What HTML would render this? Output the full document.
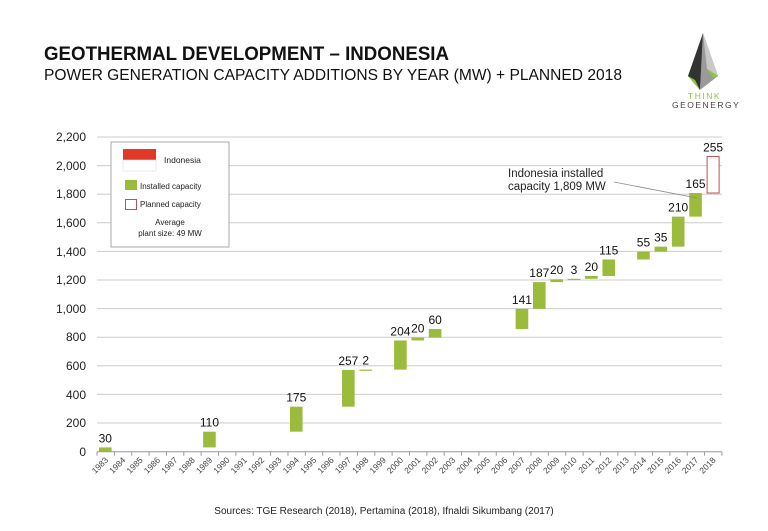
<!DOCTYPE html>
<html><head><meta charset="utf-8"><style>
html,body{margin:0;padding:0;background:#fff}
svg{display:block;font-family:"Liberation Sans",sans-serif}
</style></head><body>
<svg width="768" height="531" viewBox="0 0 768 531" xmlns="http://www.w3.org/2000/svg">
<text x="44" y="60" font-size="19" font-weight="bold" fill="#111" textLength="405" lengthAdjust="spacingAndGlyphs">GEOTHERMAL DEVELOPMENT – INDONESIA</text>
<text x="44" y="80" font-size="16" fill="#111" textLength="578" lengthAdjust="spacingAndGlyphs">POWER GENERATION CAPACITY ADDITIONS BY YEAR (MW) + PLANNED 2018</text>
<!-- logo -->
<polygon points="703,33 718,76 700,90" fill="#9a9a9a"/>
<polygon points="703,33 700,90 688,76" fill="#333"/>
<polygon points="703,33 718,76 707,69" fill="#c8c8c8"/>
<polygon points="688,76 700,90 695,80" fill="#8cc63f"/>
<polygon points="707,69 718,76 713,78" fill="#8cc63f"/>
<text x="688" y="99" font-size="8.5" fill="#8cc63f" letter-spacing="1.5">THINK</text>
<text x="672" y="108" font-size="8.5" fill="#444" letter-spacing="1.5">GEOENERGY</text>
<!-- grid -->
<g stroke="#ccc" stroke-width="1">
<line x1="97" x2="722" y1="137" y2="137"/><line x1="97" x2="722" y1="165.6" y2="165.6"/>
<line x1="97" x2="722" y1="194.2" y2="194.2"/><line x1="97" x2="722" y1="222.8" y2="222.8"/>
<line x1="97" x2="722" y1="251.4" y2="251.4"/><line x1="97" x2="722" y1="280" y2="280"/>
<line x1="97" x2="722" y1="308.6" y2="308.6"/><line x1="97" x2="722" y1="337.2" y2="337.2"/>
<line x1="97" x2="722" y1="365.8" y2="365.8"/><line x1="97" x2="722" y1="394.4" y2="394.4"/>
<line x1="97" x2="722" y1="423" y2="423"/>
</g>
<line x1="97" x2="722" y1="451.7" y2="451.7" stroke="#999"/>
<g font-size="12" fill="#222" text-anchor="end">
<text x="86" y="141">2,200</text><text x="86" y="170">2,000</text><text x="86" y="198">1,800</text>
<text x="86" y="227">1,600</text><text x="86" y="256">1,400</text><text x="86" y="284">1,200</text>
<text x="86" y="313">1,000</text><text x="86" y="341">800</text><text x="86" y="370">600</text>
<text x="86" y="399">400</text><text x="86" y="427">200</text><text x="86" y="456">0</text>
</g>
<g id="ticks" stroke="#999"></g>
<g id="bars"></g>
<g id="years" font-size="8.5" fill="#444"></g>
<!-- annotation -->
<text x="508" y="177" font-size="11.5" fill="#222">Indonesia installed</text>
<text x="508" y="190" font-size="11.5" fill="#222">capacity 1,809 MW</text>
<line x1="614" y1="182" x2="697" y2="198" stroke="#888" stroke-width="0.8"/>
<!-- legend -->
<rect x="111" y="142" width="118" height="105" fill="#fff" stroke="#aaa"/>
<rect x="123" y="149" width="33" height="11" fill="#e03a27"/>
<rect x="123" y="160" width="33" height="11" fill="#fff" stroke="#ddd" stroke-width="0.6"/>
<text x="164" y="163" font-size="8.5" fill="#222">Indonesia</text>
<rect x="125" y="180" width="12" height="10" fill="#9bbb3c"/>
<text x="140" y="189" font-size="8" fill="#222">Installed capacity</text>
<rect x="125.5" y="199.5" width="11" height="10" fill="#fff" stroke="#c0504d"/>
<text x="140" y="207" font-size="8" fill="#222">Planned capacity</text>
<text x="170" y="225" font-size="8" fill="#222" text-anchor="middle">Average</text>
<text x="170" y="236" font-size="8" fill="#222" text-anchor="middle">plant size: 49 MW</text>
<text x="384" y="514" font-size="10" fill="#222" text-anchor="middle">Sources: TGE Research (2018), Pertamina (2018), Ifnaldi Sikumbang (2017)</text>
<script>
(function(){
var ns="http://www.w3.org/2000/svg",x0=97,w=17.36,z=451.7,k=0.143;
function el(t,a,p,txt){var e=document.createElementNS(ns,t);for(var n in a)e.setAttribute(n,a[n]);if(txt!==undefined)e.textContent=txt;document.getElementById(p).appendChild(e);}
for(var i=0;i<=36;i++){var x=x0+i*w;el("line",{x1:x,x2:x,y1:z,y2:z+4},"ticks");}
for(var i=0;i<36;i++){var cx=x0+i*w+w/2+3,cy=z+9;el("text",{x:cx,y:cy,"text-anchor":"end",transform:"rotate(-45 "+cx+" "+cy+")"},"years",String(1983+i));}
var d=[[1983,0,30],[1989,30,110],[1994,140,175],[1997,315,257],[1998,572,2],[2000,574,204],[2001,778,20],[2002,798,60],[2007,858,141],[2008,999,187],[2009,1186,20],[2010,1206,3],[2011,1209,20],[2012,1229,115],[2014,1344,55],[2015,1399,35],[2016,1434,210],[2017,1644,165]];
d.forEach(function(r){var i=r[0]-1983,bx=x0+i*w+2,y1=z-(r[1]+r[2])*k,h=Math.max(r[2]*k,1.2);
el("rect",{x:bx,y:y1,width:12.6,height:h,fill:"#9bbb3c"},"bars");
el("text",{x:bx+6.3,y:y1-5,"font-size":"12",fill:"#111","text-anchor":"middle"},"bars",String(r[2]));});
var i=35,bx=x0+i*w+2,y1=z-2064*k;
el("rect",{x:bx+0.5,y:y1,width:12,height:255*k,fill:"#fff",stroke:"#c0504d","stroke-width":"1"},"bars");
el("text",{x:bx+6.5,y:y1-5,"font-size":"12",fill:"#111","text-anchor":"middle"},"bars","255");
})();
</script>
</svg>
</body></html>
